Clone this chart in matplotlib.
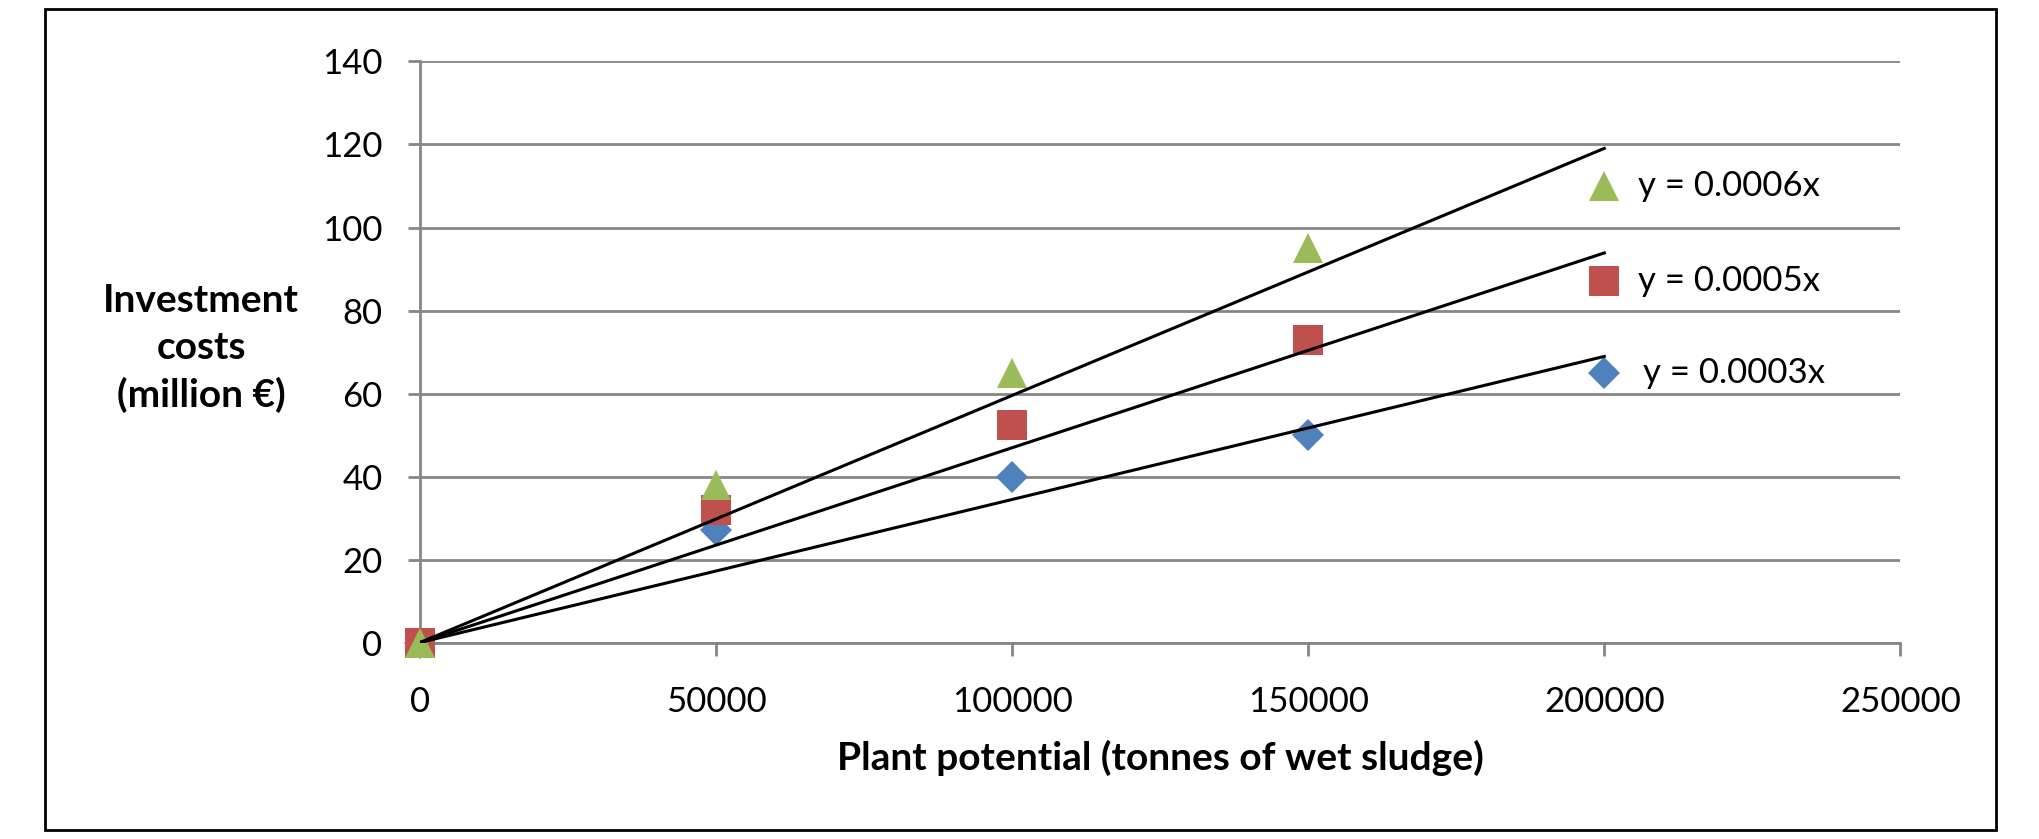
import numpy as np
import matplotlib
matplotlib.use("Agg")
import matplotlib.pyplot as plt
from matplotlib.patches import Rectangle

plt.rcParams['font.family'] = ['Lato', 'DejaVu Sans']

# data
x = [0, 50000, 100000, 150000, 200000]
blue = [0, 27, 40, 50, 65]
red = [0, 32, 52.5, 73, 87]
green = [0, 38, 65, 95, 110]
labels = ["y = 0.0003x", "y = 0.0005x", "y = 0.0006x"]

fig = plt.figure(figsize=(20.39, 8.39), dpi=100)
ax = fig.add_axes([0.206, 0.2342, 0.726, 0.6925])

grey = "#868686"
series = [(blue, "#4F81BD", "D", 16.5), (red, "#C0504D", "s", 22), (green, "#9BBB59", "^", 22)]

xs = np.array(x, dtype=float)
for (ys, col, mk, ms), lab in zip(series, labels):
    ax.plot(x, ys, linestyle="none", marker=mk, markersize=ms, color=col,
            markeredgewidth=0, zorder=3, clip_on=False)
    # linear trendline through the origin
    slope = np.sum(xs * np.array(ys)) / np.sum(xs ** 2)
    ax.plot([0, x[-1]], [0, slope * x[-1]], color="black", lw=2.2, zorder=4)
    ax.annotate(lab, (x[-1], ys[-1]), xytext=(24 if mk != "D" else 28, 0),
                textcoords="offset points", va="center", ha="left", fontsize=25)

ax.set_xlim(0, 250000)
ax.set_ylim(0, 140)
ax.set_xticks(range(0, 250001, 50000))
ax.set_yticks(range(0, 141, 20))
ax.grid(axis="y", color=grey, lw=2)
ax.set_axisbelow(True)
for s in ["top", "right"]:
    ax.spines[s].set_visible(False)
for s in ["left", "bottom"]:
    ax.spines[s].set_color(grey)
    ax.spines[s].set_linewidth(2)
ax.tick_params(axis="both", direction="out", length=9, width=2, color=grey,
               labelsize=25)
ax.tick_params(axis="x", pad=22)
ax.tick_params(axis="y", pad=18)

ax.set_xlabel("Plant potential (tonnes of wet sludge)", fontsize=28,
              fontweight="bold", labelpad=16)
fig.text(201 / 2039, 1 - 348 / 839, "Investment\ncosts\n(million €)", ha="center",
         va="center", fontsize=28, fontweight="bold", linespacing=1.4)

fig.patches.append(Rectangle((45 / 2039, 9 / 839), 1951 / 2039, 821 / 839,
                             transform=fig.transFigure, fill=False,
                             edgecolor="black", lw=2))

fig.savefig("out.png", dpi=100)
